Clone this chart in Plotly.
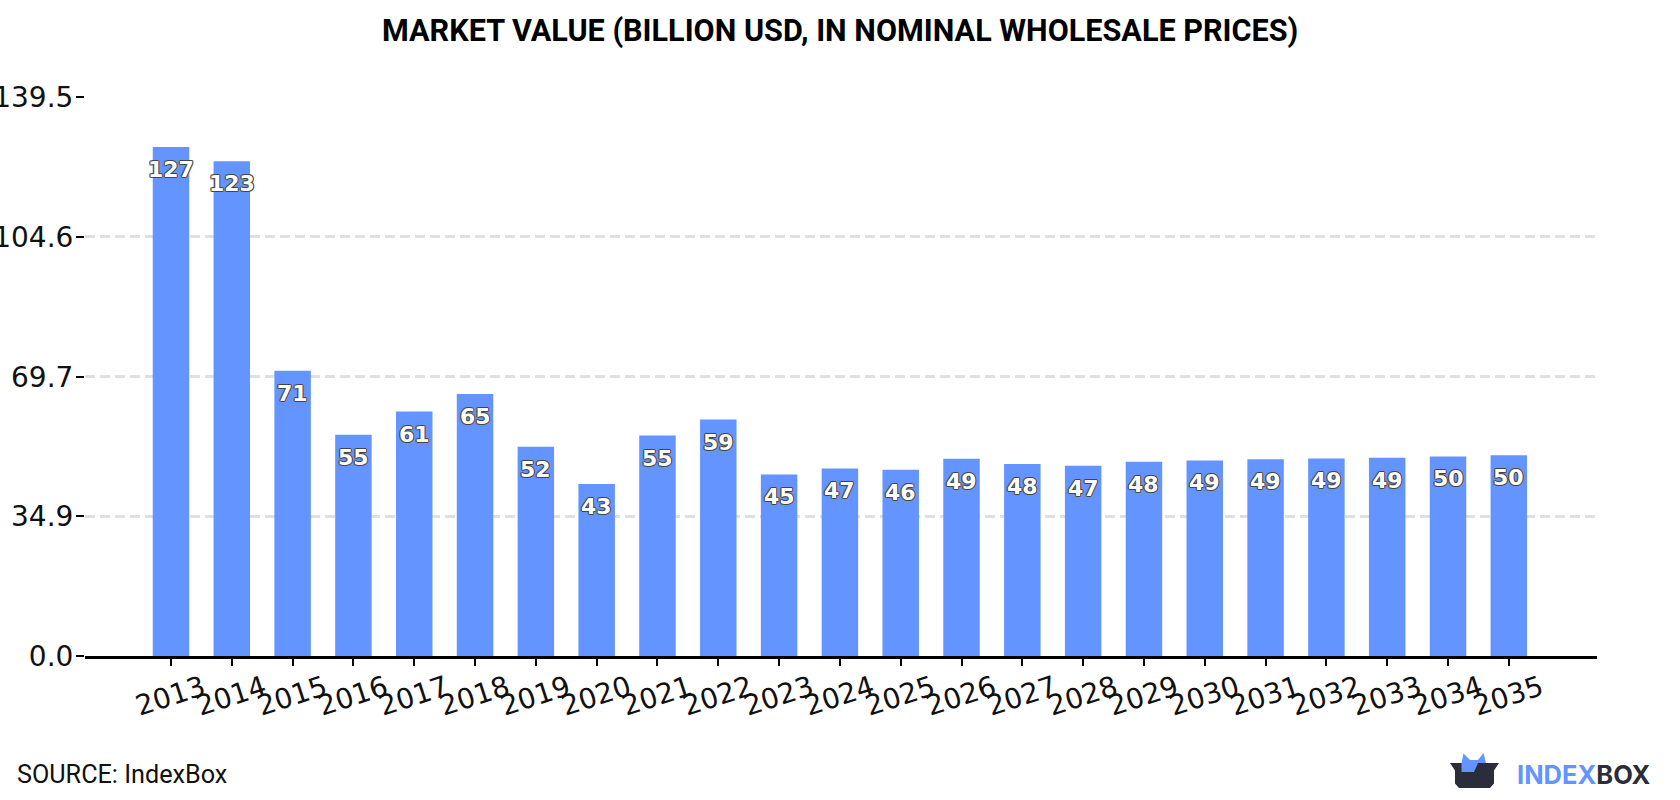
import plotly.graph_objects as go

# Series
years = list(range(2013, 2036))
market_value = [127.0, 123.49, 71.2, 55.2, 61.0, 65.4, 52.2, 42.9, 55.0, 59.0, 45.3, 46.8,
                46.49, 49.2, 47.9, 47.49, 48.49, 48.8, 49.1, 49.3, 49.49, 49.8, 50.1]
y_ticks = [0.0, 34.9, 69.7, 104.6, 139.5]
y_tick_labels = ["0.0", "34.9", "69.7", "104.6", "139.5"]

TITLE = "MARKET VALUE (BILLION USD, IN NOMINAL WHOLESALE PRICES)"
SOURCE = "SOURCE: IndexBox"
BLUE = "#6394ff"
DARK = "#2b2d3a"

# Plot area in page pixels
W, H = 1680, 800
L, R, T, B = 85, 1597, 96.6, 656.4


def px(x):
    return (x - L) / (R - L)


def py(y):
    return (B - y) / (B - T)


def path(points):
    return "M " + " L ".join(f"{px(x):.5f},{py(y):.5f}" for x, y in points) + " Z"


fig = go.Figure(
    go.Bar(x=years, y=market_value, width=0.6, marker=dict(color=BLUE, line_width=0), hoverinfo="x+y")
)

outline = ("-1px 0 #444, 1px 0 #444, 0 -1px #444, 0 1px #444, "
           "-1px -1px #777, 1px -1px #777, -1px 1px #777, 1px 1px #777")
annotations = [
    dict(x=yr, y=v, text=str(round(v)), showarrow=False, yanchor="middle", yshift=-22.5,
         font=dict(family="DejaVu Sans", size=22, color="white", weight="bold", shadow=outline))
    for yr, v in zip(years, market_value)
]
annotations += [
    dict(xref="paper", yref="paper", x=px(840), y=py(31), text=f"<b>{TITLE}</b>", showarrow=False,
         xanchor="center", yanchor="middle", font=dict(family="Roboto", size=30.6, color="black")),
    dict(xref="paper", yref="paper", x=px(15), y=py(775.5), text=SOURCE, showarrow=False,
         xanchor="left", yanchor="middle", font=dict(family="Roboto", size=25.2, color="#111")),
    dict(xref="paper", yref="paper", x=px(1653), y=py(775), showarrow=False, xanchor="right", yanchor="middle",
         text=f"<b><span style='color:{BLUE}'>INDEX</span>BOX</b>",
         font=dict(family="Inter", size=25.5, color=DARK)),
]

# Brand mark: open box with the blue shape rising out of it
box = [(1450, 763.5), (1499, 763.5), (1494, 771), (1494, 784), (1490, 788.5), (1459, 788.5), (1455, 784), (1455, 771)]
ears = [(1461.5, 763.5), (1463.5, 754), (1470, 760.5), (1478, 760.5), (1483.5, 753.5), (1486, 763.5), (1478, 763.5),
        (1474, 772.5), (1461.5, 772.5)]
shapes = [
    dict(type="path", xref="paper", yref="paper", path=path(box), fillcolor=DARK, line_width=0),
    dict(type="path", xref="paper", yref="paper", path=path(ears), fillcolor=BLUE, line_width=0),
]

fig.update_layout(
    width=W, height=H,
    autosize=False,
    margin=dict(l=L, r=W - R, t=T, b=H - B, pad=0, autoexpand=False),
    paper_bgcolor="white", plot_bgcolor="white",
    showlegend=False,
    annotations=annotations,
    shapes=shapes,
    xaxis=dict(
        range=[2013 - 1.414, 2013 + 23.45],
        tickmode="array", tickvals=years, ticktext=[str(y) for y in years],
        tickangle=-18, ticklabelshift=32, ticklabelstandoff=-5, ticklen=7, tickwidth=2, tickcolor="black",
        ticks="outside", showline=True, linecolor="black", linewidth=3, showgrid=False, zeroline=False,
        tickfont=dict(family="DejaVu Sans", size=28, color="#111"),
    ),
    yaxis=dict(
        range=[0, 139.5],
        tickmode="array", tickvals=y_ticks, ticktext=y_tick_labels,
        ticks="outside", ticklen=8, tickwidth=2, tickcolor="black", ticklabelstandoff=-3,
        showline=False, zeroline=False, showgrid=True,
        gridcolor="#e0e0e0", gridwidth=2.5, griddash="10px,5px",
        tickfont=dict(family="DejaVu Sans", size=28, color="#111"),
    ),
)

fig.write_html("out.html")
